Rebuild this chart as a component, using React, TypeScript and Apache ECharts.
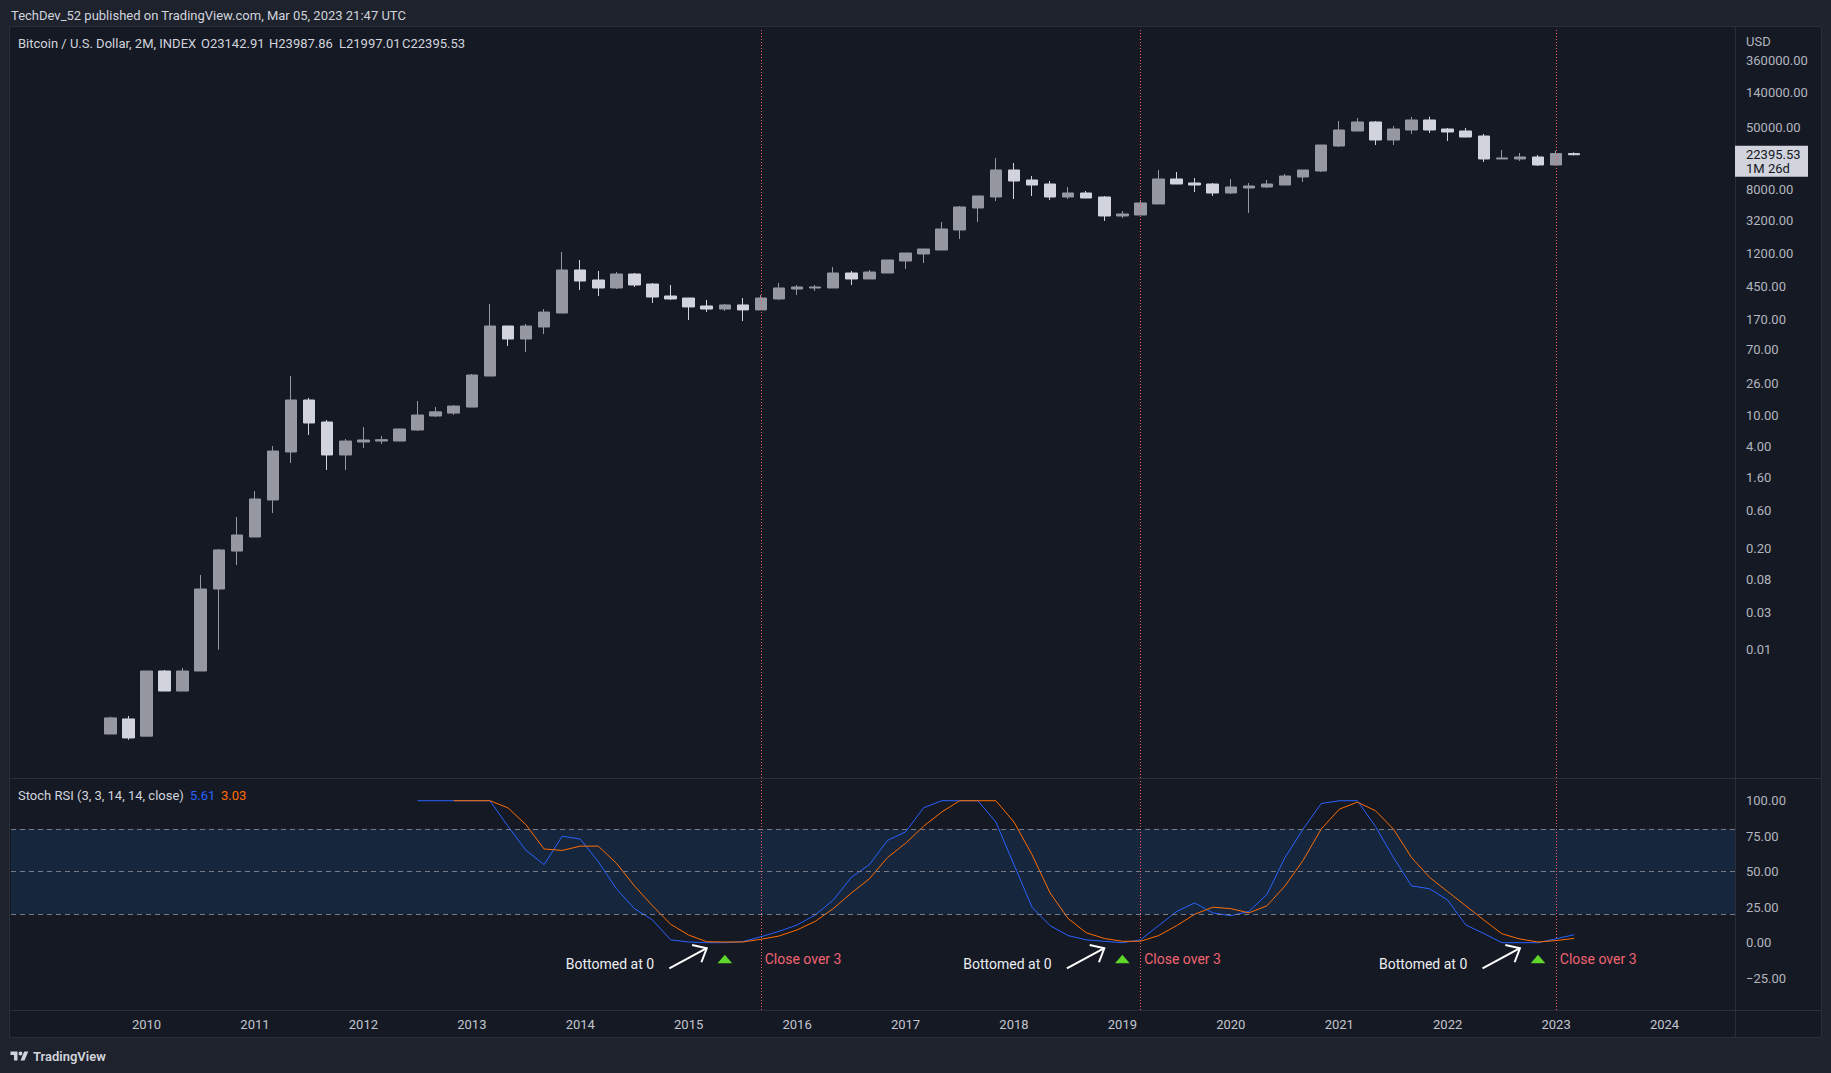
import React, { useEffect, useRef } from "react";
import * as echarts from "echarts";

const FONT = "Roboto, 'Noto Sans', sans-serif";

// ---- time axis: 2-month bars from Sep 2009 (axis runs past the last bar) ----
const firstYear = 2009;
const firstMonth = 9;
const axisPeriods: string[] = [];
for (let i = 0; i < 90; i++) {
  const m = firstMonth - 1 + 2 * i;
  axisPeriods.push(`${firstYear + Math.floor(m / 12)}-${String((m % 12) + 1).padStart(2, "0")}`);
}
const barCount = 82;
const periods = axisPeriods.slice(0, barCount);

// ---- OHLC (USD, log chart) ----
const opens = [
  0.00082, 0.00128, 0.00077, 0.00528, 0.00292, 0.00528, 0.0596, 0.183, 0.277, 0.828,
  3.42, 15.9, 8.3, 3.13, 4.6, 4.73, 4.73, 6.55, 9.91, 10.8,
  12.9, 32.3, 141.7, 96.5, 137.6, 208, 742, 552, 436, 659,
  490, 344, 324, 256, 234, 264, 228, 315, 423, 436,
  436, 679, 569, 679, 968, 1191, 1340, 2421, 4638, 6420,
  14262, 10610, 9426, 6420, 7225, 6420, 3661, 3771, 5220, 10930,
  9707, 9426, 7225, 8375, 8630, 9151, 11595, 13844, 28980, 45150,
  58920, 34600, 46500, 62520, 47900, 45150, 38940, 19750, 19750, 20950,
  16530, 23142.91,
];
const highs = [
  0.00137, 0.0014, 0.00528, 0.00544, 0.00577, 0.0902, 0.1945, 0.5, 1.08, 4.08,
  32.3, 16.9, 8.81, 5.02, 7.16, 5.49, 6.8, 15.4, 12.9, 13.7,
  34.3, 272, 142, 150.4, 234, 1263, 997, 720, 699, 679,
  505, 476, 326, 306, 272, 324, 354, 505, 476, 476,
  811, 720, 742, 997, 1230, 1385, 3067, 4920, 6650, 20335,
  17540, 11940, 10300, 8630, 7665, 6612, 4244, 5875, 14262, 13440,
  11260, 9707, 10930, 9707, 10610, 12665, 14262, 29900, 60700, 66300,
  60700, 52360, 68310, 69000, 49350, 49350, 41310, 25750, 23570, 22230,
  25250, 23987.86,
];
const lows = [
  0.00082, 0.00069, 0.00077, 0.00292, 0.00292, 0.00528, 0.0099, 0.121, 0.277, 0.564,
  2.47, 5.65, 2.01, 2.01, 3.85, 4.33, 4.7, 6.36, 9.62, 10.2,
  12.9, 32.3, 78.5, 65.7, 112, 208, 411, 344, 423, 449,
  280, 306, 169, 214, 221, 164, 228, 306, 354, 399,
  436, 476, 569, 679, 764, 912, 1340, 1855, 3067, 5703,
  6050, 6612, 5875, 6050, 6200, 3158, 3451, 3771, 5220, 9400,
  7440, 6612, 7015, 4000, 8375, 9151, 10000, 13440, 28140, 45000,
  29850, 29850, 41310, 42560, 33600, 37500, 18070, 19750, 18610, 16050,
  16500, 21997.01,
];
const closes = [
  0.00132, 0.00073, 0.00528, 0.00292, 0.00528, 0.0596, 0.189, 0.294, 0.853, 3.52,
  15.9, 8.06, 3.13, 4.73, 4.88, 4.92, 6.75, 10.2, 11.2, 13.3,
  33.3, 141.7, 96.5, 141.7, 214, 742, 536, 436, 659, 476,
  334, 315, 249, 234, 264, 228, 324, 436, 449, 449,
  679, 569, 699, 997, 1226, 1380, 2493, 4776, 6612, 14262,
  10300, 9151, 6420, 7225, 6232, 3661, 3885, 5377, 10930, 9426,
  9151, 7225, 8630, 8885, 9426, 11940, 14262, 29850, 46500, 58920,
  34600, 47900, 62520, 46500, 43850, 37810, 19750, 20335, 20950, 16530,
  23140, 22395.53,
];

// ---- Stoch RSI (3, 3, 14, 14, close): K starts at bar 17, D at bar 19 ----
const stochK: (number | null)[] = [
  null, null, null, null, null, null, null, null, null, null,
  null, null, null, null, null, null, null, 100, 100, 100,
  100, 100, 82, 65, 55, 75, 73, 57, 38, 24,
  16, 2, 0.5, 0, 0, 0.8, 4.2, 8, 12.5, 19.5,
  30, 46, 55, 72, 78, 95, 100, 100, 100, 85,
  55, 25, 12, 5, 2, 1, 0, 2, 12, 22,
  28, 21, 19, 22, 34, 60, 80, 98, 100, 100,
  82, 60, 40, 38, 30, 12.5, 6.5, 0, 0, 0,
  2.8, 5.61,
];
const stochD: (number | null)[] = [
  null, null, null, null, null, null, null, null, null, null,
  null, null, null, null, null, null, null, null, null, 100,
  100, 100, 95, 83, 66, 65, 68, 68, 56, 40,
  26, 13, 5.4, 0.7, 0.5, 0.5, 2.4, 4.7, 9, 15,
  24, 35, 45, 60, 70, 82, 92, 100, 100, 100,
  85, 62, 35, 17, 7, 3, 1, 1, 5, 12,
  20, 25, 24, 21, 26, 40, 58, 80, 94, 99,
  93, 80, 60, 46, 36, 26, 16, 6.3, 2.6, 0.5,
  1.5, 3.03,
];

// ---- axis ticks ----
const priceTicks = [360000, 140000, 50000, 8000, 3200, 1200, 450, 170, 70, 26, 10, 4, 1.6, 0.6, 0.2, 0.08, 0.03, 0.01];
const stochTicks = [100, 75, 50, 25, 0, -25];
const stochLevels = [80, 50, 20];

// ---- annotations ----
const signalBars = [36, 57, 80]; // dotted verticals, "Close over 3"
const bottomBars = [34, 56, 79]; // green markers, "Bottomed at 0"
const bottomLabel = "Bottomed at 0";
const signalLabel = "Close over 3";
const countdown = "1M 26d";

const PANEL_BG = "#151924";
const OUTER_BG = "#1e222d";
const BORDER = "#2a2e39";
const TEXT = "#d1d4dc";
const AXIS_TEXT = "#b2b5be";
const UP = "#9598a1";
const DOWN = "#d1d4dc";
const K_COLOR = "#2962ff";
const D_COLOR = "#ff6d00";
const SIGNAL = "#f05a66";

const X_MIN = -5.5;
const X_MAX = 89.9;

const LOGO_D = "M14 22H7V11H0V4h14v18zM28 22h-8l7.5-18h8L28 22zM24 8a4 4 0 1 1-8 0a4 4 0 1 1 8 0z";
let logoRegistered = false;

export default function App() {
  const ref = useRef<HTMLDivElement>(null);
  useEffect(() => {
    if (!ref.current) return;
    if (!logoRegistered) {
      echarts.graphic.registerShape("tvlogo", echarts.graphic.extendPath(LOGO_D, {}) as any);
      logoRegistered = true;
    }
    const chart = echarts.init(ref.current, null, { renderer: "svg" });

    const candleData = periods.map((_, i) => [i, opens[i], closes[i], lows[i], highs[i]]);
    const kData = stochK.map((v, i) => (v == null ? null : [i, v])).filter((d) => d) as number[][];
    const dData = stochD.map((v, i) => (v == null ? null : [i, v])).filter((d) => d) as number[][];
    const yearTicks: number[] = [];
    axisPeriods.forEach((p, i) => {
      if (p.endsWith("-01")) yearTicks.push(i);
    });

    const priceFmt = (v: number) => {
      let best = priceTicks[0];
      priceTicks.forEach((t) => {
        if (Math.abs(Math.log(t / v)) < Math.abs(Math.log(best / v))) best = t;
      });
      return best.toFixed(2);
    };

    const option: any = {
      animation: false,
      backgroundColor: PANEL_BG,
      textStyle: { fontFamily: FONT },
      grid: [
        { left: 11, top: 28, width: 1724, height: 750 },
        { left: 11, top: 778, width: 1724, height: 232 },
      ],
      xAxis: [
        { type: "value", gridIndex: 0, min: X_MIN, max: X_MAX, show: false },
        {
          type: "value",
          gridIndex: 1,
          min: X_MIN,
          max: X_MAX,
          axisLine: { show: false },
          axisTick: { show: false },
          splitLine: { show: false },
          axisLabel: {
            customValues: yearTicks,
            formatter: (v: number) => axisPeriods[Math.round(v)].slice(0, 4),
            color: "#c3c6ce",
            fontSize: 13,
            fontFamily: FONT,
            margin: 8,
          },
        },
      ],
      yAxis: [
        {
          type: "log",
          logBase: 10,
          gridIndex: 0,
          position: "right",
          min: 0.0002234,
          max: 948300,
          axisLine: { show: false },
          axisTick: { show: false },
          splitLine: { show: false },
          axisLabel: {
            customValues: priceTicks,
            formatter: priceFmt,
            color: AXIS_TEXT,
            fontSize: 13,
            fontFamily: FONT,
            margin: 11,
          },
        },
        {
          type: "value",
          gridIndex: 1,
          position: "right",
          min: -47.4,
          max: 116,
          axisLine: { show: false },
          axisTick: { show: false },
          splitLine: { show: false },
          axisLabel: {
            customValues: stochTicks,
            formatter: (v: number) => (v < 0 ? "\u2212" + Math.abs(v).toFixed(2) : v.toFixed(2)),
            color: AXIS_TEXT,
            fontSize: 13,
            fontFamily: FONT,
            margin: 11,
          },
        },
      ],
      series: [
        {
          type: "candlestick",
          xAxisIndex: 0,
          yAxisIndex: 0,
          data: candleData,
          encode: { x: 0, y: [1, 2, 3, 4] },
          barWidth: 12,
          itemStyle: {
            color: UP,
            color0: DOWN,
            borderColor: UP,
            borderColor0: DOWN,
            borderWidth: 1,
          },
          markLine: {
            silent: true,
            symbol: "none",
            label: { show: false },
            lineStyle: { color: SIGNAL, type: [1, 2], width: 1 },
            data: signalBars.map((b) => ({ xAxis: b })),
          },
        },
        {
          type: "line",
          name: "K",
          xAxisIndex: 1,
          yAxisIndex: 1,
          data: kData,
          showSymbol: false,
          symbol: "none",
          lineStyle: { color: K_COLOR, width: 1 },
          markArea: {
            silent: true,
            itemStyle: { color: "rgba(33,150,243,0.12)" },
            data: [[{ yAxis: stochLevels[2] }, { yAxis: stochLevels[0] }]],
          },
          markLine: {
            silent: true,
            symbol: "none",
            label: { show: false },
            data: [
              ...stochLevels.map((l) => ({
                yAxis: l,
                lineStyle: { color: "#787b86", type: [5, 4], width: 1 },
              })),
              ...signalBars.map((b) => ({
                xAxis: b,
                lineStyle: { color: SIGNAL, type: [1, 2], width: 1 },
              })),
            ],
          },
        },
        {
          type: "line",
          name: "D",
          xAxisIndex: 1,
          yAxisIndex: 1,
          data: dData,
          showSymbol: false,
          symbol: "none",
          lineStyle: { color: D_COLOR, width: 1 },
        },
      ],
    };
    chart.setOption(option);

    const toPx = (g: number, x: number, y: number) =>
      chart.convertToPixel({ gridIndex: g } as any, [x, y]) as number[];

    const g: any[] = [];
    // outer page strips and frame
    const strip = (x: number, y: number, w: number, h: number) =>
      g.push({ type: "rect", silent: true, shape: { x, y, width: w, height: h }, style: { fill: OUTER_BG }, z: 50 });
    strip(0, 0, 1831, 26.5);
    strip(0, 1037.5, 1831, 36);
    strip(0, 0, 9.5, 1073);
    strip(1821.5, 0, 10, 1073);
    g.push({ type: "rect", silent: true, shape: { x: 9.5, y: 26.5, width: 1812, height: 1011 }, style: { fill: "none", stroke: BORDER, lineWidth: 1 }, z: 51 });
    g.push({ type: "line", silent: true, shape: { x1: 10, y1: 778.5, x2: 1821, y2: 778.5 }, style: { stroke: BORDER, lineWidth: 1 }, z: 51 });
    g.push({ type: "line", silent: true, shape: { x1: 10, y1: 1010.5, x2: 1821, y2: 1010.5 }, style: { stroke: BORDER, lineWidth: 1 }, z: 51 });
    g.push({ type: "line", silent: true, shape: { x1: 1735.5, y1: 27, x2: 1735.5, y2: 1037 }, style: { stroke: BORDER, lineWidth: 1 }, z: 51 });

    const txt = (x: number, y: number, text: string, fill: string, size = 13, weight: any = "normal", align = "left") =>
      g.push({
        type: "text",
        silent: true,
        x,
        y,
        z: 60,
        style: { text, fill, fontSize: size, fontFamily: FONT, fontWeight: weight, align, verticalAlign: "middle" },
      });

    txt(11, 15, "TechDev_52 published on TradingView.com, Mar 05, 2023 21:47 UTC", TEXT);
    txt(18, 43, "Bitcoin / U.S. Dollar, 2M, INDEX", TEXT);
    const last = barCount - 1;
    txt(201, 43, "O" + opens[last].toFixed(2), TEXT);
    txt(269, 43, "H" + highs[last].toFixed(2), TEXT);
    txt(339, 43, "L" + lows[last].toFixed(2), TEXT);
    txt(402, 43, "C" + closes[last].toFixed(2), TEXT);
    txt(1746, 41, "USD", AXIS_TEXT);

    txt(18, 795, "Stoch RSI (3, 3, 14, 14, close)", TEXT);
    txt(190, 795, (stochK[last] as number).toFixed(2), K_COLOR);
    txt(221, 795, (stochD[last] as number).toFixed(2), D_COLOR);

    // current price tag
    const py = toPx(0, last, closes[last])[1];
    g.push({ type: "rect", silent: true, shape: { x: 1735, y: py - 9, width: 73, height: 31 }, style: { fill: "#d1d4dc" }, z: 60 });
    txt(1746, py, closes[last].toFixed(2), "#131722");
    txt(1746, py + 13.5, countdown, "#131722");

    // logo
    g.push({ type: "tvlogo", silent: true, x: 10.5, y: 1049.5, scaleX: 0.5, scaleY: 0.5, style: { fill: TEXT }, z: 60 });
    txt(33, 1056, "TradingView", TEXT, 13, 600);

    // annotations in the oscillator pane
    bottomBars.forEach((b) => {
      const [tx, ty] = toPx(1, b, -11.5);
      g.push({
        type: "polygon",
        silent: true,
        z: 60,
        shape: { points: [[tx - 7.3, ty + 4.2], [tx + 7.3, ty + 4.2], [tx, ty - 4.2]] },
        style: { fill: "#5ed62a" },
      });
      const [lx, ly] = toPx(1, b - 6.36, -15.2);
      txt(lx, ly, bottomLabel, "#eceef2", 14, "normal", "center");
      const a = toPx(1, b - 3.07, -18);
      const t = toPx(1, b - 1.0, -3.9);
      const dx = t[0] - a[0];
      const dy = t[1] - a[1];
      const len = Math.hypot(dx, dy);
      const ux = dx / len;
      const uy = dy / len;
      const ang = (41 * Math.PI) / 180;
      const arm = (s: number) => {
        const c = Math.cos(s * ang);
        const sn = Math.sin(s * ang);
        const rx = -(ux * c - uy * sn);
        const ry = -(ux * sn + uy * c);
        return [t[0] + rx * 15, t[1] + ry * 15];
      };
      g.push({ type: "polyline", silent: true, z: 60, shape: { points: [a, t] }, style: { stroke: "#ffffff", lineWidth: 2, fill: null } });
      g.push({ type: "polyline", silent: true, z: 60, shape: { points: [arm(1), t, arm(-1)] }, style: { stroke: "#ffffff", lineWidth: 2, fill: null } });
    });
    signalBars.forEach((b) => {
      const [lx, ly] = toPx(1, b + 2.33, -11.6);
      txt(lx, ly, signalLabel, "#f06471", 14, "normal", "center");
    });

    chart.setOption({ graphic: g });
    return () => chart.dispose();
  }, []);

  return <div ref={ref} style={{ position: "fixed", left: 0, top: 0, width: 1831, height: 1073 }} />;
}
